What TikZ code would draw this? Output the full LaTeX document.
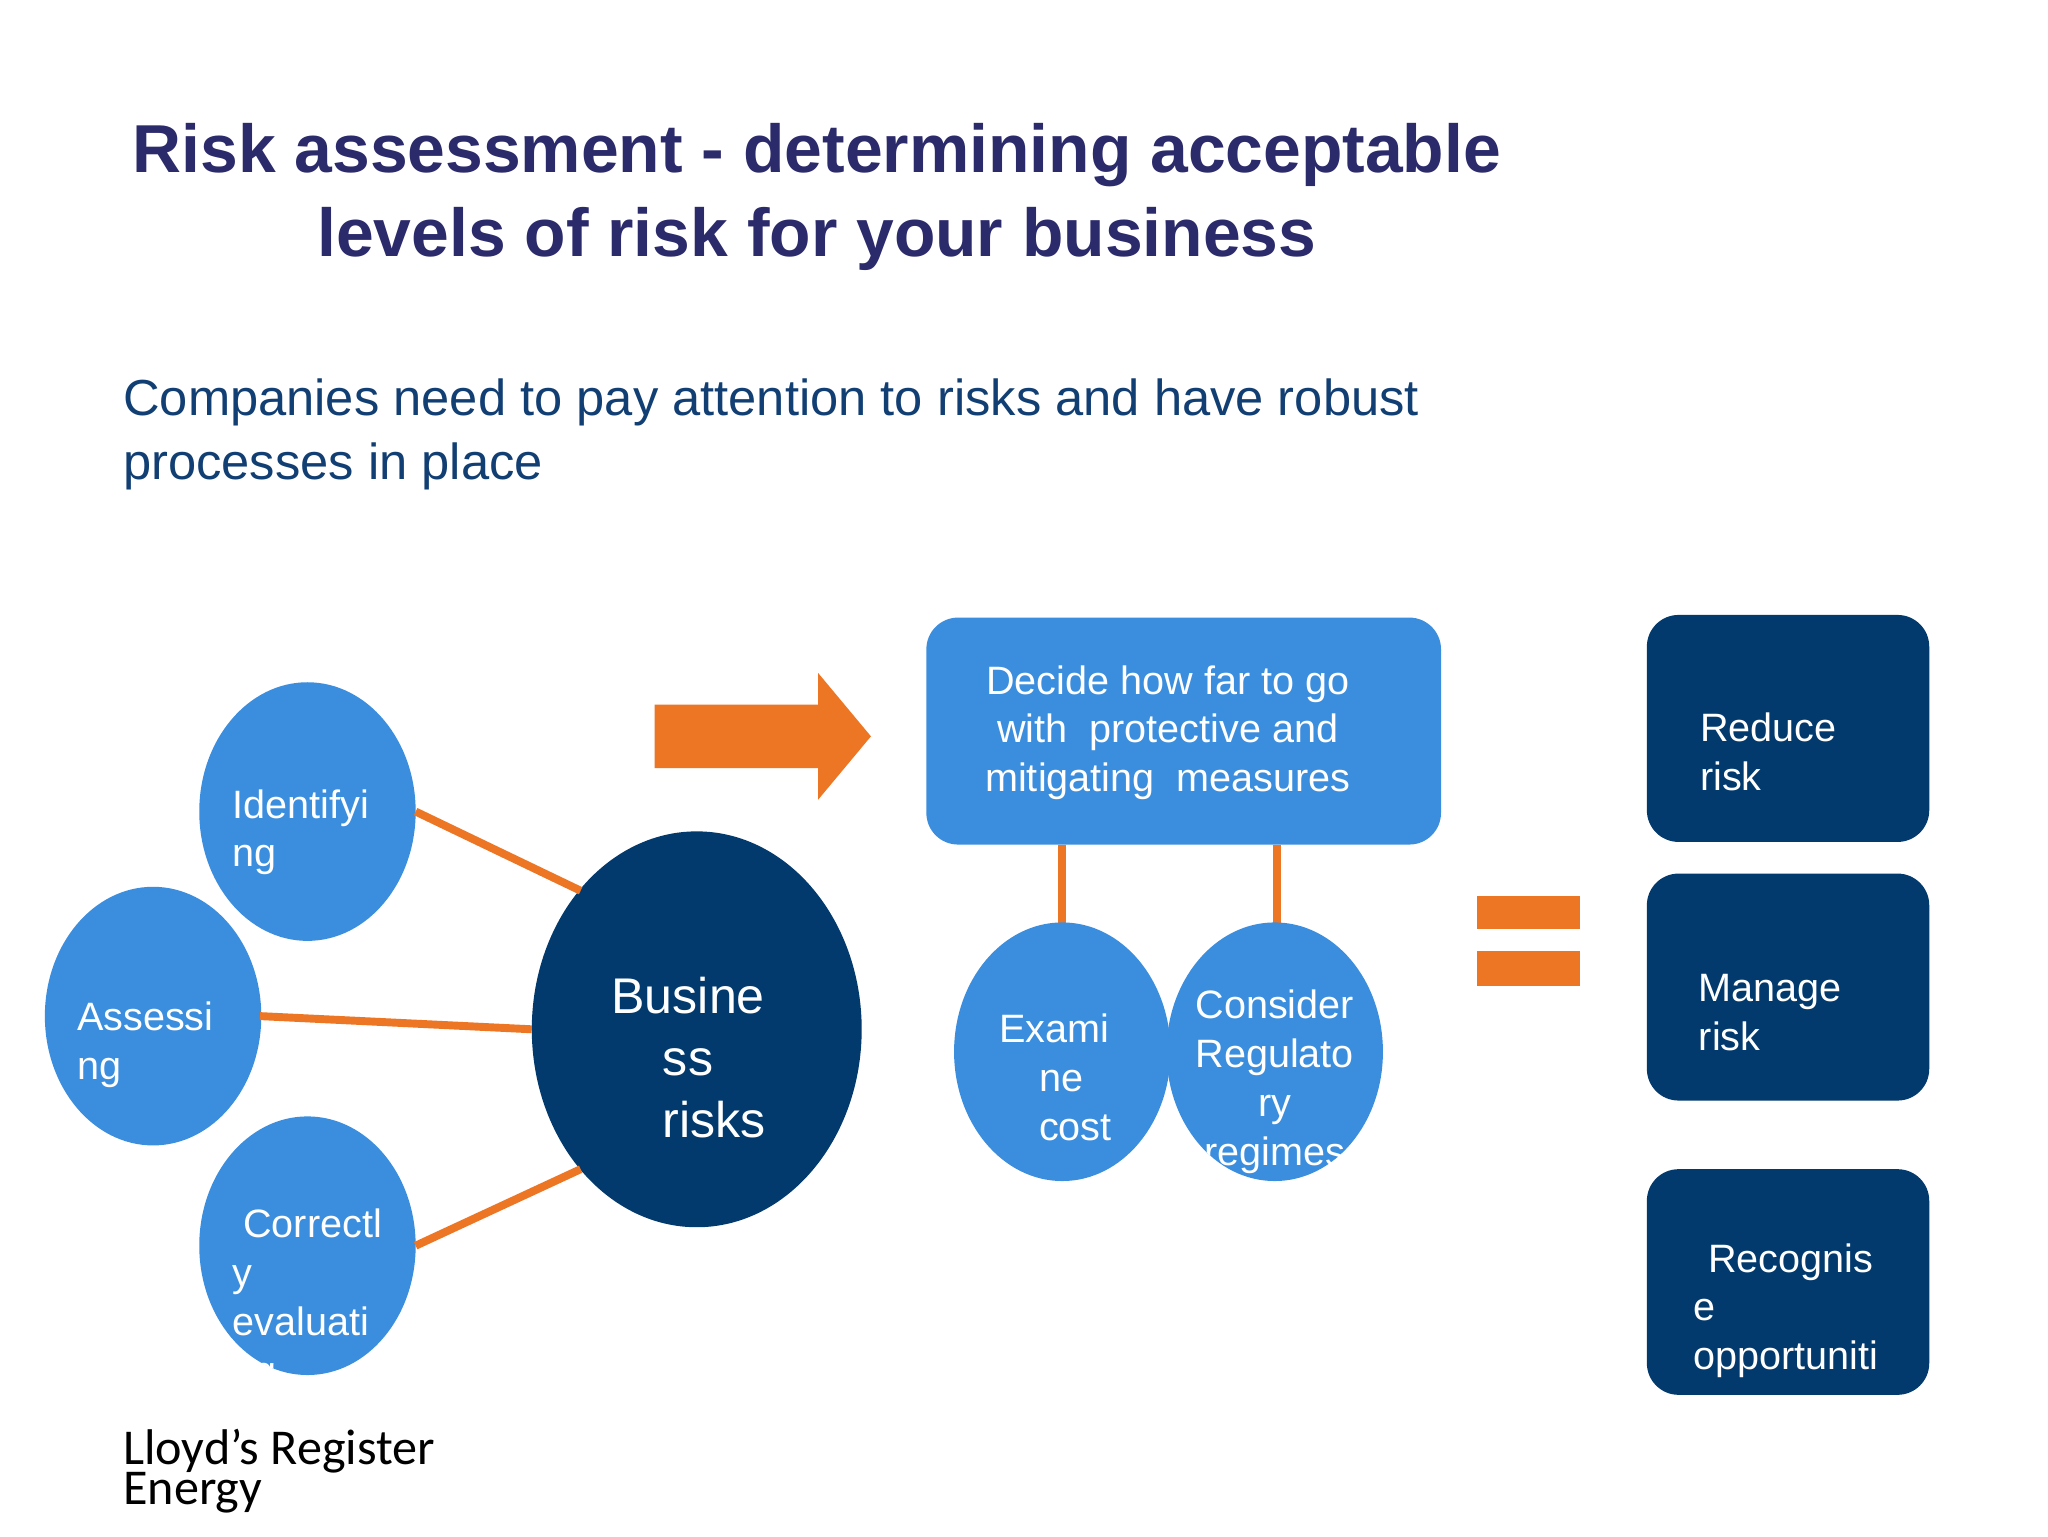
\documentclass[tikz,border=0pt]{standalone}
\usepackage{fontspec}
\setmainfont{Liberation Sans}
\newfontfamily\foot{Carlito}
\definecolor{navy}{HTML}{2B2A6B}
\definecolor{sub}{HTML}{123F73}
\definecolor{lb}{HTML}{3B8EDE}
\definecolor{db}{HTML}{023A6E}
\definecolor{org}{HTML}{ED7625}
\begin{document}
\begin{tikzpicture}[x=0.5pt,y=-0.5pt,
  lt/.style={inner sep=0,anchor=base west,text=white,font=\fontsize{15}{17}\selectfont},
  ct/.style={inner sep=0,anchor=base,text=white,font=\fontsize{15}{17}\selectfont},
  con/.style={org,line width=3pt}]
\useasboundingbox (0,0) rectangle (1552,1164);
\fill[white] (0,0) rectangle (1552,1164);
\node[inner sep=0,text=navy,font=\bfseries\fontsize{25.7}{30}\selectfont,anchor=base] (t1) at (619,131) {Risk assessment - determining acceptable};
\node[inner sep=0,text=navy,font=\bfseries\fontsize{25.7}{30}\selectfont,anchor=base] (t2) at (619,194) {levels of risk for your business};
\node[inner sep=0,text=sub,font=\fontsize{19.2}{22}\selectfont,anchor=base west] (s1) at (93,315) {Companies need to pay attention to risks and have robust};
\node[inner sep=0,text=sub,font=\fontsize{19.2}{22}\selectfont,anchor=base west] (s2) at (93,363) {processes in place};
% ellipses
\fill[lb] (233,615) ellipse [x radius=82,y radius=98];
\fill[lb] (116,770) ellipse [x radius=82,y radius=98];
\fill[lb] (233,944) ellipse [x radius=82,y radius=98];
\fill[db] (528,780) ellipse [x radius=125,y radius=150];
\coordinate (i) at (315,615); \coordinate (a) at (197,770); \coordinate (c) at (315,944);
\coordinate (b1) at (440,675); \coordinate (b2) at (403,780); \coordinate (b3) at (440,886);
\draw[con] (i) -- (b1); \draw[con] (a) -- (b2); \draw[con] (c) -- (b3);
\node[lt] (n1) at (176,620) {Identifyi};
\node[lt] (n2) at (176,657) {ng};
\node[lt] (n3) at (58,781) {Assessi};
\node[lt] (n4) at (58,818) {ng};
\begin{scope}
\clip (233,944) ellipse [x radius=82,y radius=98];
\node[lt] (n5) at (184,938) {Correctl};
\node[lt] (n6) at (176,975) {y};
\node[lt] (n7) at (176,1012) {evaluati};
\node[lt] (n8) at (176,1049) {ng};
\end{scope}
\node[lt,font=\fontsize{19}{22}\selectfont] (bz1) at (463,768) {Busine};
\node[lt,font=\fontsize{19}{22}\selectfont] (bz2) at (502,815) {ss};
\node[lt,font=\fontsize{19}{22}\selectfont] (bz3) at (502,862) {risks};
% arrow
\fill[org] (496,534) -- (620,534) -- (620,510) -- (660,558) -- (620,606) -- (620,582) -- (496,582) -- cycle;
% box
\fill[lb,rounded corners=12pt] (702,468) rectangle (1092,640);
\node[ct] (d1) at (885,526) {Decide how far to go};
\node[ct] (d2) at (885,563) {with\ \ protective and};
\node[ct] (d3) at (885,600) {mitigating\ \ measures};
\coordinate (v1) at (805,640); \coordinate (v1b) at (805,700);
\coordinate (v2) at (968,640); \coordinate (v2b) at (968,700);
\draw[con] (v1) -- (v1b); \draw[con] (v2) -- (v2b);
\fill[lb] (805,797) ellipse [x radius=82,y radius=98];
\fill[lb] (966,797) ellipse [x radius=82,y radius=98];
\node[lt] (e1) at (757,790) {Exami};
\node[lt] (e2) at (787,827) {ne};
\node[lt] (e3) at (787,864) {cost};
\begin{scope}
\clip (966,797) ellipse [x radius=82,y radius=98];
\node[ct] (r1) at (966,772) {Consider};
\node[ct] (r2) at (966,809) {Regulato};
\node[ct] (r3) at (966,846) {ry};
\node[ct] (r4) at (966,883) {regimes};
\end{scope}
% equals
\fill[org] (1119,679) rectangle (1197,704);
\fill[org] (1119,721) rectangle (1197,747);
% dark boxes
\fill[db,rounded corners=12pt] (1248,466) rectangle (1462,638);
\fill[db,rounded corners=12pt] (1248,662) rectangle (1462,834);
\fill[db,rounded corners=12pt] (1248,886) rectangle (1462,1057);
\node[lt] (k1) at (1288,562) {Reduce};
\node[lt] (k2) at (1288,599) {risk};
\node[lt] (k3) at (1287,759) {Manage};
\node[lt] (k4) at (1287,796) {risk};
\node[lt] (k5) at (1294,964) {Recognis};
\node[lt] (k6) at (1283,1001) {e};
\node[lt] (k7) at (1283,1038) {opportuniti};
% footer
\node[inner sep=0,anchor=base west,font=\foot\fontsize{19}{19}\selectfont] (f1) at (93,1110) {Lloyd’s Register};
\node[inner sep=0,anchor=base west,font=\foot\fontsize{19}{19}\selectfont] (f2) at (93,1140) {Energy};
\end{tikzpicture}
\end{document}
